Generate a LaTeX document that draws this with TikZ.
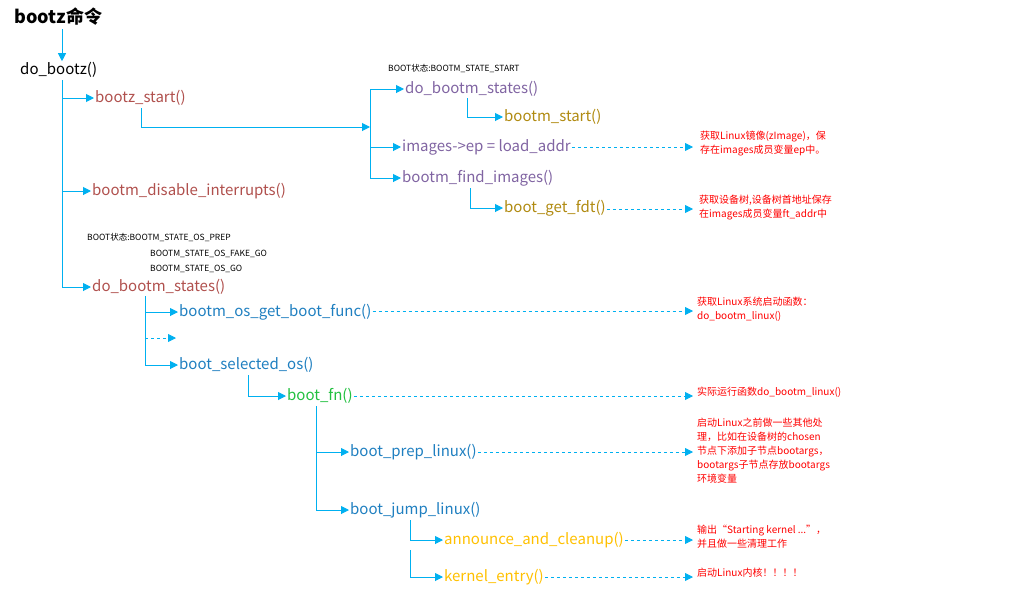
\documentclass[tikz,border=0pt]{standalone}
\usepackage{fontspec}
\setmainfont{Noto Sans CJK SC}
\usetikzlibrary{arrows.meta, positioning}
\definecolor{lineblue}{HTML}{00B0F0}
\definecolor{fnbrown}{HTML}{B0504D}
\definecolor{fnpurple}{HTML}{8064A2}
\definecolor{fngold}{HTML}{B08A10}
\definecolor{fnblue}{HTML}{1F7FC0}
\definecolor{fngreen}{HTML}{22C040}
\definecolor{fnorange}{HTML}{FFC000}
\tikzset{
	fn/.style={anchor=west, inner sep=1pt, font=\fontsize{15}{17}\selectfont},
	note/.style={anchor=north west, inner sep=0pt, align=left, text=red, font=\fontsize{10}{14}\selectfont},
	state/.style={anchor=west, inner sep=0pt, font=\fontsize{8.5}{10}\selectfont},
	link/.style={draw=lineblue, line width=1pt, -{Triangle[length=8pt,width=8pt]}},
	dlink/.style={link, dashed, line width=0.8pt}
}
\begin{document}
\begin{tikzpicture}[x=1pt, y=-1pt]
	\useasboundingbox (0,0) rectangle (1033,600);
	% Title and root
	\node[anchor=west, inner sep=0pt, font=\fontsize{18}{20}\bfseries\selectfont] (title) at (14,17) {bootz命令};
	\node[fn] (dobootz) at (19,70) {do\_bootz()};
	\draw[link] (62,29) -- (dobootz.north -| 62,0);

	% first level
	\node[fn, text=fnbrown] (bzstart) at (94,98) {bootz\_start()};
	\node[fn, text=fnbrown] (disint) at (91,191) {bootm\_disable\_interrupts()};
	\node[fn, text=fnbrown] (dostates) at (91,287) {do\_bootm\_states()};
	\node[state] (st2a) at (87,238) {BOOT状态:BOOTM\_STATE\_OS\_PREP};
	\node[state] (st2b) at (150,254) {BOOTM\_STATE\_OS\_FAKE\_GO};
	\node[state] (st2c) at (150,269) {BOOTM\_STATE\_OS\_GO};
	\coordinate (t1) at (62,80);
	\draw[lineblue, line width=1pt] (t1) -- (62,287);
	\foreach \n in {bzstart, disint, dostates}
		\draw[link] (t1 |- \n.west) -- (\n.west);

	% bootz_start branch
	\node[state] (st1) at (388,69) {BOOT状态:BOOTM\_STATE\_START};
	\node[fn, text=fnpurple] (upstates) at (404,89) {do\_bootm\_states()};
	\node[fn, text=fnpurple] (imgep) at (401,147) {images->ep = load\_addr};
	\node[fn, text=fnpurple] (findimg) at (401,178) {bootm\_find\_images()};
	\node[fn, text=fngold] (bmstart) at (503,117) {bootm\_start()};
	\node[fn, text=fngold] (getfdt) at (503,208) {boot\_get\_fdt()};
	\coordinate (t2) at (370,127);
	\draw[link] (141,108) |- (t2);
	\draw[lineblue, line width=1pt] (370,89) -- (370,178);
	\foreach \n in {upstates, imgep, findimg}
		\draw[link] (t2 |- \n.west) -- (\n.west);
	\draw[link] (467,98) |- (bmstart.west);
	\draw[link] (470,188) |- (getfdt.west);

	% do_bootm_states branch
	\node[fn, text=fnblue] (getfunc) at (178,312) {bootm\_os\_get\_boot\_func()};
	\node[fn, text=fnblue] (selos) at (178,365) {boot\_selected\_os()};
	\coordinate (gap) at (176,338);
	\coordinate (t3) at (145,296);
	\draw[lineblue, line width=1pt] (t3) -- (145,365);
	\draw[link] (t3 |- getfunc.west) -- (getfunc.west);
	\draw[dlink] (t3 |- gap) -- (gap);
	\draw[link] (t3 |- selos.west) -- (selos.west);

	\node[fn, text=fngreen] (bootfn) at (286,396) {boot\_fn()};
	\draw[link] (248,375) |- (bootfn.west);
	\node[fn, text=fnblue] (preplinux) at (349,452) {boot\_prep\_linux()};
	\node[fn, text=fnblue] (jumplinux) at (349,510) {boot\_jump\_linux()};
	\draw[link] (316,406) |- (preplinux.west);
	\draw[link] (316,440) |- (jumplinux.west);
	\node[fn, text=fnorange] (cleanup) at (443,540) {announce\_and\_cleanup()};
	\node[fn, text=fnorange] (kentry) at (443,577) {kernel\_entry()};
	\draw[link] (410,520) |- (cleanup.west);
	\draw[link] (410,550) |- (kentry.west);

	% notes
	\node[note] (n1) at (700,131) {获取Linux镜像(zImage)，保\\存在images成员变量ep中。};
	\node[note] (n2) at (699,195) {获取设备树,设备树首地址保存\\在images成员变量ft\_addr中};
	\node[note] (n3) at (697,297) {获取Linux系统启动函数：\\do\_bootm\_linux()};
	\node[note] (n4) at (697,387) {实际运行函数do\_bootm\_linux()};
	\node[note] (n5) at (697,418) {启动Linux之前做一些其他处\\理，比如在设备树的chosen\\节点下添加子节点bootargs，\\bootargs子节点存放bootargs\\环境变量};
	\node[note] (n6) at (697,525) {输出“Starting kernel ...”，\\并且做一些清理工作};
	\node[note] (n7) at (697,568) {启动Linux内核！！！！};
	\foreach \f/\y in {imgep/147, getfdt/209, getfunc/311, bootfn/396, preplinux/452, cleanup/540, kentry/577}
		\draw[dlink] (\f.east |- 0,\y) -- (693,\y);
\end{tikzpicture}
\end{document}
